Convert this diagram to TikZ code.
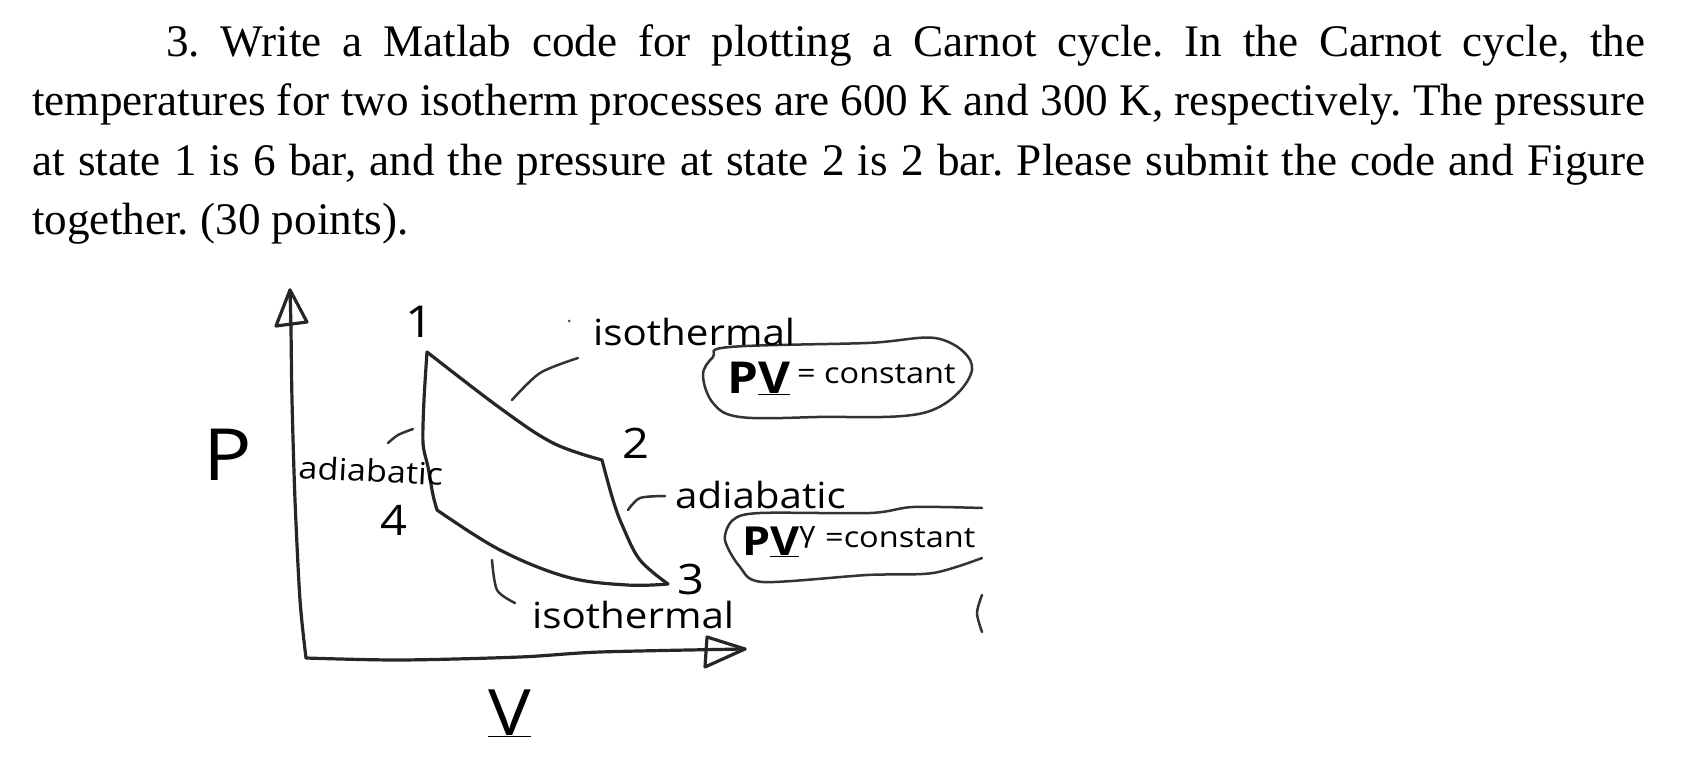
\documentclass[tikz,border=0pt]{standalone}
\usepackage{fontspec}
\setmainfont{Liberation Serif}
\newfontfamily\handfont[FakeStretch=1.12]{Open Sans}
\tikzset{
    hand/.style={inner sep=0pt, font=\handfont\fontsize{#1}{#1}\selectfont, anchor=base west},
    hand/.default=36,
    stroke/.style={line width=3.2pt, black!85},
    thin stroke/.style={line width=2.5pt, black!80}
}
\begin{document}
\begin{tikzpicture}[x=1pt, y=-1pt, line join=round, line cap=round]
    \useasboundingbox (0,0) rectangle (1682,768);
    \node[inner sep=0pt, anchor=north west, text width=1613pt, font=\fontsize{45.2}{59.5}\selectfont\frenchspacing, align=justify] (problem) at (32,24)
        {\hspace*{134pt}3. Write a Matlab code for plotting a Carnot cycle. In the Carnot cycle, the\linebreak
        temperatures for two isotherm processes are 600 K and 300 K, respectively. The pressure\linebreak
        at state 1 is 6 bar, and the pressure at state 2 is 2 bar. Please submit the code and Figure\linebreak
        together. (30 points).};
    \coordinate (origin) at (306,658);
    \coordinate (ptop) at (290,290);
    \coordinate (vtip) at (745,649);
    \coordinate (one) at (427,352);
    \coordinate (two) at (602,460);
    \coordinate (three) at (668,584);
    \coordinate (four) at (437,510);
    \draw[stroke] plot[smooth, tension=.5] coordinates {(ptop) (291,330) (292,400) (295,500) (300,600) (origin)};
    \draw[stroke] (ptop)--(276,326)--(307,322)--cycle;
    \draw[stroke] plot[smooth, tension=.5] coordinates {(origin) (400,660) (520,657) (600,652) (vtip)};
    \draw[stroke] (vtip)--(707,637)--(705,667)--cycle;
    \draw[stroke] plot[smooth, tension=.6] coordinates {(one) (500,408) (553,443) (two)};
    \draw[stroke] plot[smooth, tension=.6] coordinates {(two) (613,500) (623,527) (640,560) (three)};
    \draw[stroke] plot[smooth, tension=.6] coordinates {(three) (627,585) (567,577) (500,550) (four)};
    \draw[stroke] plot[smooth, tension=.5] coordinates {(four) (433,495) (428,467) (423,443) (424,400) (one)};
    \draw[thin stroke] plot[smooth] coordinates {(512,400) (540,373) (578,358)};
    \draw[thin stroke] plot[smooth] coordinates {(388,443) (398,435) (413,429)};
    \draw[thin stroke] plot[smooth] coordinates {(492,560) (497,590) (515,603)};
    \draw[thin stroke] plot[smooth] coordinates {(628,510) (640,498) (665,496)};
    \fill[black!70] (569,321) circle (1.5pt);
    \draw[thin stroke] plot[smooth cycle, tension=.6] coordinates {(730,347) (867,343) (940,339) (972,370) (927,412) (817,417) (740,417) (713,403) (703,375) (713,357)};
    \draw[thin stroke] plot[smooth, tension=.5] coordinates {(982,508) (913,507) (870,513) (760,513) (733,520) (725,540) (740,567) (763,582) (867,575) (933,573) (982,558)};
    \draw[thin stroke] plot[smooth] coordinates {(982,595) (977,613) (982,632)};
    \node[hand=44] (lone) at (405,337) {1};
    \node[hand=42] (ltwo) at (622,458) {2};
    \node[hand=42] (lthree) at (677,594) {3};
    \node[hand=42] (lfour) at (380,535) {4};
    \node[hand=72] (lp) at (203,480) {P};
    \node[hand=64] (lv) at (488,735) {\underline{V}};
    \node[hand=36] (isotop) at (593,345) {isothermal};
    \node[hand=36] (isobottom) at (532,628) {isothermal};
    \node[hand=30.5, rotate=-3] (adialeft) at (298,478) {adiabatic};
    \node[hand=36] (adiaright) at (675,508) {adiabatic};
    \node[hand=44] (pvone) at (727,393) {\textbf{P\underline{V}}};
    \node[hand=29] (cone) at (797,383) {= constant};
    \node[hand=40] (pvtwo) at (742,555) {\textbf{P\underline{V}}\raisebox{14pt}{\fontsize{28}{28}\selectfont γ}};
    \node[hand=29] (ctwo) at (825,547) {=constant};
\end{tikzpicture}
\end{document}
